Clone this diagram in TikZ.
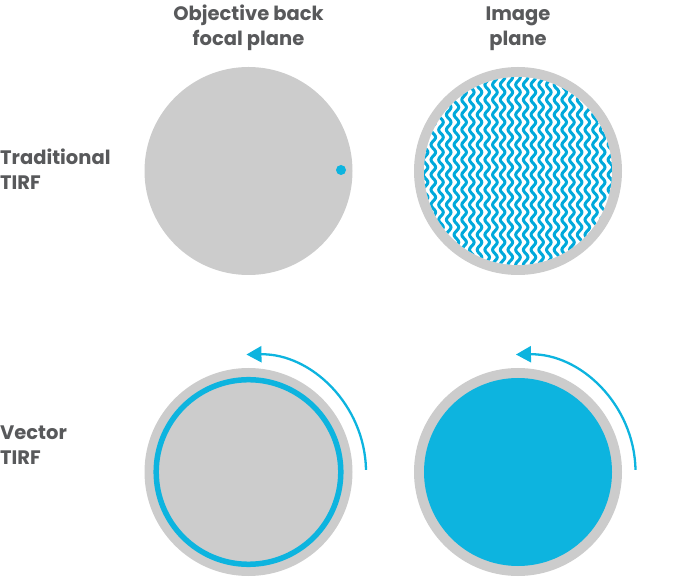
\documentclass[tikz,border=0pt]{standalone}
\usepackage{fontspec}
\setmainfont{Poppins}
\usetikzlibrary{arrows.meta}
\definecolor{tgray}{HTML}{CCCCCC}
\definecolor{tblue}{HTML}{0DB4DF}
\definecolor{wblue}{HTML}{00A9DB}
\definecolor{ltext}{HTML}{58595B}
\begin{document}
\begin{tikzpicture}[x=1pt,y=1pt,
  lbl/.style={font=\bfseries\fontsize{19.5}{25}\selectfont, text=ltext, inner sep=0pt},
  rot/.style={draw=tblue, line width=2.3pt, -{Triangle[length=15pt,width=16pt]}},
  wave/.style={draw=wblue, line width=3pt}]
\useasboundingbox (0,0) rectangle (674,578);
\coordinate (TL) at (248.5,407);
\coordinate (TR) at (518,407);
\coordinate (BL) at (248.5,106);
\coordinate (BR) at (518,106);
\coordinate (dot) at (341,408);

% labels
\node[lbl, anchor=base] (h1a) at (248.5,557) {Objective back};
\node[lbl, anchor=base] (h1b) at (248.5,532) {focal plane};
\node[lbl, anchor=base] (h2a) at (518,557) {Image};
\node[lbl, anchor=base] (h2b) at (518,532) {plane};
\node[lbl, anchor=base west] (r1a) at (0,413) {Traditional};
\node[lbl, anchor=base west] (r1b) at (0,388) {TIRF};
\node[lbl, anchor=base west] (r2a) at (0,138) {Vector};
\node[lbl, anchor=base west] (r2b) at (0,113) {TIRF};

% top left
\fill[tgray] (TL) circle (104);
\fill[tblue] (dot) circle (5);

% top right
\fill[tgray] (TR) circle (104);
\fill[white] (TR) circle (94);
\begin{scope}
  \clip (TR) circle (94);
  \foreach \k in {-13,...,13}
    \draw[wave] plot[domain=-100:100, samples=161, smooth, variable=\t]
      ({518+\k*7.7+2.3*sin(\t*24)}, {407+\t});
\end{scope}

% bottom left
\fill[tgray] (BL) circle (104);
\draw[tblue, line width=5.5pt] (BL) circle (92.3);
\draw[rot] (BL) ++(1:117.5) arc[start angle=1, end angle=91, radius=117.5];

% bottom right
\fill[tgray] (BR) circle (104);
\fill[tblue] (BR) circle (94);
\draw[rot] (BR) ++(1:117.5) arc[start angle=1, end angle=91, radius=117.5];
\end{tikzpicture}
\end{document}
